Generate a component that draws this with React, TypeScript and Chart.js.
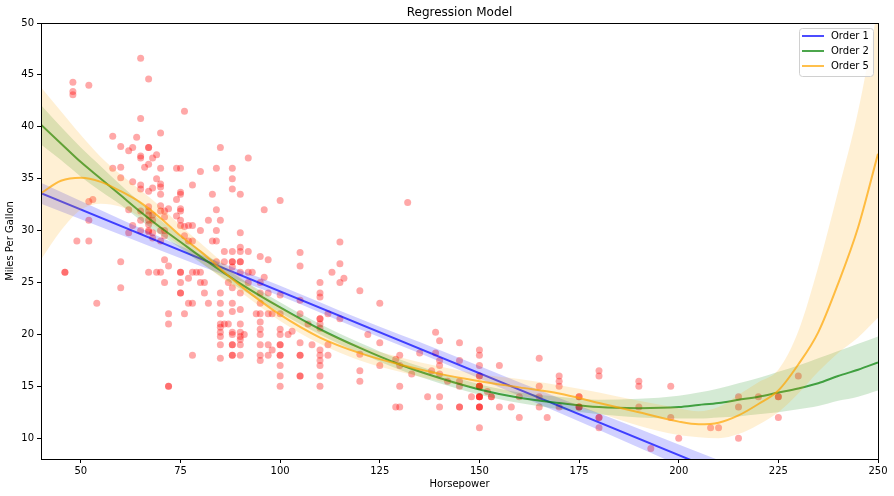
import React, { useEffect, useRef } from 'react';
import { Chart, registerables } from 'chart.js';

Chart.register(...registerables);

const xTicks = [50, 75, 100, 125, 150, 175, 200, 225, 250];
const yTicks = [10, 15, 20, 25, 30, 35, 40, 45, 50];

// [horsepower, mpg]
const cars: [number, number][] = [
    [65, 46.6], [48, 44.3], [52, 44], [48, 43.4], [48, 43.1], [67, 44.6], [76, 41.5], [65, 40.8], [58, 39.1], [64, 39],
    [70, 39.4], [60, 38.1], [62, 37.7], [63, 38], [67, 38], [67, 38], [65, 37.2], [65, 37], [68, 37], [69, 37.3],
    [66, 36.1], [67, 36.4], [70, 36], [58, 36], [60, 36.1], [74, 36], [75, 36], [60, 35.1], [69, 35], [63, 34.7],
    [65, 34.4], [65, 34], [67, 33.8], [68, 34.1], [70, 34.5], [70, 34.2], [70, 33.5], [78, 34.4], [75, 33.7], [80, 35.7],
    [53, 33], [52, 32.8], [52, 31], [62, 32], [65, 31.9], [65, 31], [67, 32.3], [67, 31.9], [67, 31], [67, 31.5],
    [68, 31.5], [68, 31], [70, 32.4], [70, 31.9], [71, 31.9], [71, 31.3], [72, 32.1], [74, 33], [74, 31.4], [75, 33.5],
    [75, 32.1], [75, 31.9], [75, 31], [75, 30.5], [76, 30.4], [76, 29.5], [78, 30.5], [78, 29],
    [63, 30.5], [62, 29.8], [65, 30], [67, 30.6], [67, 30], [68, 29.8], [70, 30], [49, 29], [52, 29], [80, 30],
    [67, 29.9], [68, 29.3], [70, 29], [71, 29.5], [71, 30],
    [46, 26], [46, 26], [60, 27], [71, 27.2], [72, 26.6], [67, 26], [69, 26], [70, 26], [75, 26], [75, 26],
    [78, 26], [79, 26], [80, 26], [71, 25], [75, 25], [77, 25.4], [80, 25], [60, 24.5], [75, 24], [75, 24],
    [54, 23], [78, 23], [72, 22], [76, 22], [72, 21], [78, 18], [72, 15], [72, 15],
    [85, 38], [92, 37], [84, 36], [88, 36], [88, 35], [88, 34], [90, 33.5], [83, 33.5], [100, 32.9], [96, 32],
    [84, 32], [82, 31], [85, 31], [77, 30.5], [84, 30], [90, 29.8], [83, 29], [84, 29], [77, 29], [90, 28.4],
    [90, 28], [86, 28], [88, 28], [92, 28], [88, 27], [88, 27], [90, 27], [90, 27], [86, 27], [84, 27],
    [95, 27.5], [97, 27.2], [105, 27.9], [105, 26.6], [115, 28.9], [115, 26.8], [113, 26], [116, 25.4], [115, 25], [110, 25],
    [110, 24], [110, 23.6], [120, 24.2], [88, 26.5], [90, 26], [92, 26], [93, 26], [96, 25.5], [95, 25], [97, 24],
    [95, 24], [87, 25], [88, 24.5], [90, 24], [92, 25], [81, 25], [81, 24], [85, 24], [100, 23.8],
    [77, 23], [82, 23], [85, 23], [88, 23], [88, 22.2], [90, 22.4], [85, 22], [94, 22], [95, 22], [95, 23],
    [97, 22], [98, 22], [100, 22], [105, 23.3], [105, 22], [110, 21.5], [110, 21.5], [110, 21], [110, 20.6], [112, 22],
    [115, 21.5], [107, 21], [85, 21], [86, 21], [87, 21], [85, 20.7], [85, 20.2], [85, 19.8], [85, 19], [85, 17.7],
    [88, 20.2], [88, 20], [88, 19], [88, 19], [88, 18], [88, 18], [90, 21], [90, 20.2], [90, 19.8], [90, 19.5],
    [90, 19], [90, 18], [91, 20], [95, 21.2], [95, 20.5], [95, 20], [95, 19], [95, 18], [95, 17.5], [97, 19],
    [97, 18], [98, 18.5], [100, 20.5], [100, 20], [100, 19], [100, 19], [100, 18], [100, 18], [100, 17], [100, 16],
    [100, 15], [102, 20], [103, 20.3], [105, 19.2], [105, 18], [105, 18], [105, 16], [105, 16], [108, 19], [110, 18.5],
    [110, 18], [110, 17.5], [110, 17], [110, 16], [110, 15], [112, 19], [112, 18], [120, 16.5], [120, 15.5],
    [132, 32.7], [125, 23], [122, 20], [125, 19.2], [120, 18.1], [125, 17], [130, 18], [129, 17.6], [130, 17], [130, 15],
    [129, 13], [130, 13], [133, 16.2], [135, 18.2], [137, 14], [138, 16.5], [139, 20.2], [140, 19.4], [139, 18.2], [140, 17.5],
    [140, 17], [140, 16.2], [140, 14], [140, 13], [142, 15.5], [145, 19.2], [145, 17.5], [145, 15.5], [145, 15], [145, 13],
    [145, 13], [148, 14], [150, 18.5], [150, 18], [150, 17], [150, 16], [150, 16], [150, 15], [150, 15], [150, 15],
    [150, 15], [150, 14], [150, 14], [150, 14], [150, 14], [150, 13], [150, 13], [150, 13], [150, 11], [152, 14.5],
    [153, 14], [153, 14], [155, 17], [155, 13], [158, 13], [160, 14], [160, 12], [165, 17.7], [165, 15], [165, 14],
    [165, 13], [167, 12], [170, 16], [170, 15.5], [170, 15], [170, 13],
    [175, 14], [175, 14], [175, 13], [175, 13], [175, 13], [180, 16.5], [180, 16], [180, 12], [180, 12], [180, 11],
    [190, 15.5], [190, 15], [190, 13], [198, 15], [198, 12], [200, 10], [193, 9], [208, 11], [210, 11], [215, 14],
    [215, 13], [215, 10], [220, 14], [225, 14], [225, 14], [225, 12], [230, 16],
];

// order 1 fit and its band
const order1Hp = [40, 210];
const order1 = [33.6, 6.8];
const order1BandHp = [40, 60, 80, 100, 120, 140, 160, 180, 200, 220];
const order1Low = [32.6, 29.6, 26.6, 23.7, 20.5, 17.4, 14.1, 10.8, 7.4, 4.0];
const order1High = [34.6, 31.1, 27.7, 24.7, 21.5, 18.5, 15.4, 12.4, 9.4, 6.4];

// order 2 and order 5 fits, sampled along horsepower
const fitHp = [40, 45, 50, 55, 60, 65, 70, 75, 80, 90, 100, 110, 120, 130, 140, 150, 160, 170, 180, 190, 200, 205, 210, 215, 220, 225, 230, 235, 240, 245, 250];
const order2 = [40.2, 38.4, 36.6, 35.0, 33.4, 31.8, 30.3, 28.9, 27.5, 24.9, 22.6, 20.5, 18.7, 17.1, 15.8, 14.7, 13.9, 13.4, 13.0, 12.9, 13.0, 13.2, 13.4, 13.7, 14.0, 14.4, 14.8, 15.3, 16.0, 16.6, 17.3];
const order2Low = [38.3, 36.8, 35.2, 33.8, 32.5, 31.0, 29.6, 28.3, 26.9, 24.4, 22.1, 20.0, 18.2, 16.6, 15.3, 14.2, 13.4, 12.8, 12.3, 12.0, 11.9, 11.9, 12.0, 12.1, 12.3, 12.5, 12.8, 13.1, 13.6, 14.0, 14.6];
const order2High = [42.1, 40.0, 38.0, 36.2, 34.4, 32.7, 31.0, 29.5, 28.1, 25.4, 23.1, 21.0, 19.2, 17.6, 16.3, 15.2, 14.4, 14.0, 13.7, 13.8, 14.1, 14.4, 14.8, 15.3, 15.8, 16.4, 17.0, 17.7, 18.4, 19.1, 19.8];
const order5 = [33.6, 34.8, 35.1, 34.7, 33.8, 32.7, 31.2, 29.5, 28.0, 24.7, 21.9, 19.7, 18.2, 17.1, 16.2, 15.5, 14.9, 14.3, 13.4, 12.5, 11.6, 11.35, 11.5, 12.2, 13.3, 14.6, 17.1, 20.2, 24.9, 30.3, 37.4];
const order5Low = [27.2, 30.0, 32.0, 32.6, 32.3, 31.3, 30.0, 28.5, 27.0, 24.1, 21.3, 19.1, 17.5, 16.4, 15.5, 14.8, 14.1, 13.5, 12.4, 11.2, 10.3, 10.1, 10.0, 10.4, 11.3, 12.5, 14.3, 16.4, 18.2, 19.7, 21.6];
const order5High = [43.8, 41.5, 39.2, 37.1, 35.4, 33.9, 32.3, 30.5, 28.8, 25.5, 22.7, 20.5, 18.9, 17.8, 16.9, 16.2, 15.7, 15.1, 14.4, 13.6, 12.9, 12.6, 13.0, 14.2, 15.4, 16.6, 20.3, 26.5, 33.8, 41.5, 51.5];

const seriesNames = ['Order 1', 'Order 2', 'Order 5'];
const lineColors = ['rgba(0,0,255,0.7)', 'rgba(0,128,0,0.7)', 'rgba(255,165,0,0.7)'];
const bandColors = ['rgba(0,0,255,0.18)', 'rgba(0,128,0,0.17)', 'rgba(255,165,0,0.17)'];

const FONT = '"DejaVu Sans", sans-serif';

const pts = (xs: number[], ys: number[]) => xs.map((x, i) => ({ x, y: ys[i] }));

const band = (xs: number[], lo: number[], hi: number[], color: string, order: number) => [
    {
        data: pts(xs, lo),
        borderWidth: 0,
        pointRadius: 0,
        fill: false,
        cubicInterpolationMode: 'monotone',
        order,
    },
    {
        data: pts(xs, hi),
        borderWidth: 0,
        pointRadius: 0,
        fill: '-1',
        backgroundColor: color,
        cubicInterpolationMode: 'monotone',
        order,
    },
];

const curve = (xs: number[], ys: number[], color: string, order: number) => ({
    data: pts(xs, ys),
    borderColor: color,
    borderWidth: 2,
    pointRadius: 0,
    fill: false,
    cubicInterpolationMode: 'monotone',
    order,
});

/**
 * Frame, title and legend drawn over the plot
 */
const decorPlugin = {
    id: 'decor',
    afterDraw(chart: Chart) {
        const { ctx, chartArea: a } = chart;
        ctx.save();
        ctx.strokeStyle = '#000';
        ctx.lineWidth = 1;
        ctx.strokeRect(Math.round(a.left) + 0.5, Math.round(a.top) + 0.5, Math.round(a.right - a.left), Math.round(a.bottom - a.top));

        ctx.fillStyle = '#000';
        ctx.font = `12px ${FONT}`;
        ctx.textAlign = 'center';
        ctx.textBaseline = 'middle';
        ctx.fillText('Regression Model', (a.left + a.right) / 2, 12.5);

        // legend box
        const bx = 799.5, by = 28.5, bw = 74, bh = 48, r = 3;
        ctx.beginPath();
        ctx.moveTo(bx + r, by);
        ctx.arcTo(bx + bw, by, bx + bw, by + bh, r);
        ctx.arcTo(bx + bw, by + bh, bx, by + bh, r);
        ctx.arcTo(bx, by + bh, bx, by, r);
        ctx.arcTo(bx, by, bx + bw, by, r);
        ctx.closePath();
        ctx.fillStyle = 'rgba(255,255,255,0.8)';
        ctx.fill();
        ctx.strokeStyle = '#d0d0d0';
        ctx.stroke();

        ctx.font = `10px ${FONT}`;
        ctx.textAlign = 'left';
        seriesNames.forEach((name, i) => {
            const y = 36 + i * 15;
            ctx.strokeStyle = lineColors[i];
            ctx.lineWidth = 2;
            ctx.beginPath();
            ctx.moveTo(802, y);
            ctx.lineTo(824, y);
            ctx.stroke();
            ctx.fillStyle = '#000';
            ctx.fillText(name, 831, y + 0.5);
        });
        ctx.restore();
    },
};

const RegressionChart: React.FC = () => {
    const canvas = useRef<HTMLCanvasElement>(null);

    useEffect(() => {
        const ctx = canvas.current;
        if (!ctx) return;

        const chart = new Chart(ctx, {
            type: 'line',
            data: {
                datasets: [
                    {
                        data: cars.map(([x, y]) => ({ x, y })),
                        showLine: false,
                        pointRadius: 3.5,
                        pointBorderWidth: 0,
                        pointBackgroundColor: 'rgba(255,0,0,0.34)',
                        pointBorderColor: 'rgba(255,0,0,0)',
                        order: 20,
                    },
                    ...band(order1BandHp, order1Low, order1High, bandColors[0], 12),
                    curve(order1Hp, order1, lineColors[0], 11),
                    ...band(fitHp, order2Low, order2High, bandColors[1], 10),
                    curve(fitHp, order2, lineColors[1], 9),
                    ...band(fitHp, order5Low, order5High, bandColors[2], 8),
                    curve(fitHp, order5, lineColors[2], 7),
                ] as any,
            },
            options: {
                animation: false,
                responsive: false,
                events: [],
                layout: {
                    padding: { left: 0, right: 16, top: 23, bottom: 0 },
                },
                plugins: {
                    legend: { display: false },
                    tooltip: { enabled: false },
                },
                scales: {
                    x: {
                        type: 'linear',
                        min: 40,
                        max: 250,
                        afterBuildTicks: (scale: any) => {
                            scale.ticks = xTicks.map((value) => ({ value }));
                        },
                        afterFit: (scale: any) => {
                            scale.height = 37;
                        },
                        grid: { drawOnChartArea: false, drawTicks: true, tickLength: 4, color: '#000' },
                        border: { display: false },
                        ticks: { color: '#000', font: { family: FONT, size: 10 }, padding: 2, maxRotation: 0 },
                        title: {
                            display: true,
                            text: 'Horsepower',
                            color: '#000',
                            font: { family: FONT, size: 10 },
                            padding: { top: 0, bottom: 6 },
                        },
                    },
                    y: {
                        type: 'linear',
                        min: 8,
                        max: 50,
                        afterBuildTicks: (scale: any) => {
                            scale.ticks = yTicks.map((value) => ({ value }));
                        },
                        afterFit: (scale: any) => {
                            scale.width = 41;
                        },
                        grid: { drawOnChartArea: false, drawTicks: true, tickLength: 4, color: '#000' },
                        border: { display: false },
                        ticks: { color: '#000', font: { family: FONT, size: 10 }, padding: 3 },
                        title: {
                            display: true,
                            text: 'Miles Per Gallon',
                            color: '#000',
                            font: { family: FONT, size: 10 },
                            padding: { top: 4, bottom: 0 },
                        },
                    },
                },
            },
            plugins: [decorPlugin],
        });
        return () => chart.destroy();
    }, []);

    return <canvas ref={canvas} width={894} height={496}></canvas>;
};

export default function App() {
    return (
        <div style={{ position: 'fixed', left: 0, top: 0, width: 894, height: 496, background: '#fff' }}>
            <RegressionChart />
        </div>
    );
}
